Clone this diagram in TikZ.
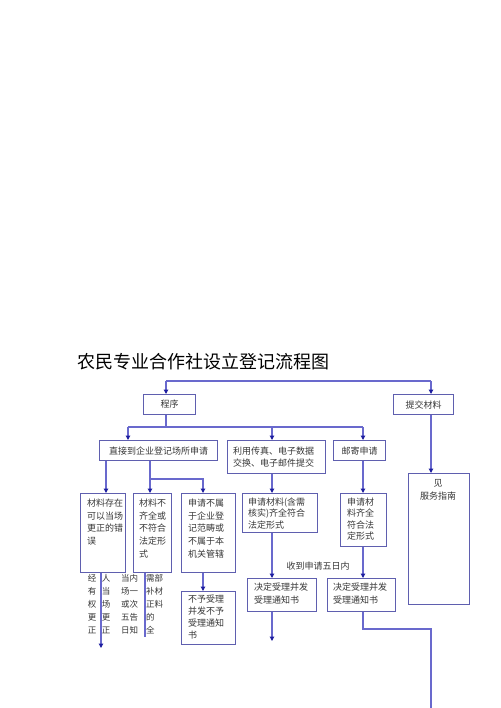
\documentclass[tikz,border=0pt]{standalone}
\usepackage{fontspec}
\setmainfont{Noto Sans CJK SC}
\usetikzlibrary{arrows.meta}
\definecolor{boxc}{RGB}{95,95,175}
\definecolor{linec}{RGB}{105,105,205}
\definecolor{tipc}{RGB}{30,30,160}
\definecolor{txtc}{RGB}{55,55,55}
\begin{document}
\begin{tikzpicture}[x=1pt,y=-1pt,
  box/.style={draw=boxc, line width=1.1pt, inner sep=0pt, anchor=north west},
  conn/.style={draw=linec, line width=1.1pt},
  arr/.style={conn, -{Triangle[width=4.5pt,length=4.5pt,color=tipc,fill=tipc]}},
  txt/.style={font=\fontsize{9}{12.5}\selectfont, text=txtc, inner sep=0pt},
  ltxt/.style={txt, align=left, anchor=base west},
  ctxt/.style={font=\fontsize{8.5}{13}\selectfont, text=txtc, inner sep=0pt, align=center, anchor=base, text width=9pt},
  pair/.style={font=\fontsize{8.5}{13}\selectfont, text=txtc, inner sep=0pt, align=left, anchor=base west, text width=20pt}
]
\fill[white] (0,0) rectangle (500,708);
\useasboundingbox (0,0) rectangle (500,708);

% title
\node[font=\fontsize{18}{18}\selectfont, anchor=west, inner sep=0pt, text=black] (title) at (77,362) {农民专业合作社设立登记流程图};

% boxes
\node[box, minimum width=52pt, minimum height=20pt] (P) at (143,394) {};
\node[box, minimum width=60pt, minimum height=20pt] (S) at (393,394) {};
\node[box, minimum width=118pt, minimum height=20pt] (D) at (99,440) {};
\node[box, minimum width=98pt, minimum height=33pt] (F) at (227,440) {};
\node[box, minimum width=52pt, minimum height=20pt] (M) at (333,440) {};
\node[box, minimum width=45pt, minimum height=79pt] (B1) at (80,493) {};
\node[box, minimum width=38pt, minimum height=79pt] (B2) at (133,493) {};
\node[box, minimum width=54pt, minimum height=79pt] (B3) at (181,493) {};
\node[box, minimum width=75pt, minimum height=39pt] (B4) at (242,493) {};
\node[box, minimum width=46pt, minimum height=53pt] (B5) at (340,493) {};
\node[box, minimum width=61pt, minimum height=131pt] (G) at (408,473) {};
\node[box, minimum width=69pt, minimum height=33pt] (R1) at (247,578) {};
\node[box, minimum width=68pt, minimum height=33pt] (R2) at (327,578) {};
\node[box, minimum width=54pt, minimum height=53pt] (N) at (181,591) {};

% box texts
\node[txt] (tP) at (P.center) {程序};
\node[txt] (tS) at (S.center) {提交材料};
\node[txt] (tD) at (D.center) {直接到企业登记场所申请};
\node[txt] (tM) at (M.center) {邮寄申请};
\node[ltxt, text width=90pt, font=\fontsize{9}{12}\selectfont] (tF) at (233,454.3) {利用传真、电子数据\\交换、电子邮件提交};
\node[ltxt, text width=40pt, font=\fontsize{9}{12.8}\selectfont] (tB1) at (87,506.3) {材料存在\\可以当场\\更正的错\\误};
\node[ltxt, text width=32pt, font=\fontsize{9}{12.8}\selectfont] (tB2) at (139,506.3) {材料不\\齐全或\\不符合\\法定形\\式};
\node[ltxt, text width=45pt, font=\fontsize{9}{12.8}\selectfont] (tB3) at (188,506.3) {申请不属\\于企业登\\记范畴或\\不属于本\\机关管辖};
\node[ltxt, text width=68pt, font=\fontsize{9}{11.5}\selectfont] (tB4) at (248,505.3) {申请材料(含需\\核实)齐全符合\\法定形式};
\node[ltxt, text width=38pt, font=\fontsize{9}{11.5}\selectfont] (tB5) at (347,505.3) {申请材\\料齐全\\符合法\\定形式};
\node[txt, align=center, text width=60pt, anchor=base, font=\fontsize{9}{13}\selectfont] (tG) at (438,486.3) {见\\服务指南};
\node[ltxt, text width=62pt, font=\fontsize{9}{13}\selectfont] (tR1) at (254,590.3) {决定受理并发\\受理通知书};
\node[ltxt, text width=62pt, font=\fontsize{9}{13}\selectfont] (tR2) at (333,590.3) {决定受理并发\\受理通知书};
\node[ltxt, text width=45pt, font=\fontsize{9}{12}\selectfont] (tN) at (188,602.3) {不予受理\\并发不予\\受理通知\\书};
\node[txt] (t5) at (318,566) {收到申请五日内};

% hanging texts
\node[ctxt] (c1) at (92,581) {经\\有\\权\\更\\正};
\node[ctxt] (c2) at (106,581) {人\\当\\场\\更\\正};
\node[pair] (c3) at (121,581) {当内\\场一\\或次\\五告\\日知};
\node[pair] (c4) at (146,581) {需部\\补材\\正料\\的\\全};

% connectors
\coordinate (t0) at (166,381);
\coordinate (t1) at (431,381);
\draw[conn] (t0) -- (t1);
\draw[arr] (t0) -- (t0 |- P.north);
\draw[arr] (t1) -- (t1 |- S.north);

\coordinate (h0) at (128,427);
\coordinate (h1) at (363,427);
\coordinate (h2) at (272,427);
\draw[conn] (t0 |- P.south) -- (t0 |- h0);
\draw[conn] (h0) -- (h1);
\draw[arr] (h0) -- (h0 |- D.north);
\draw[arr] (h2) -- (h2 |- F.north);
\draw[arr] (h1) -- (h1 |- M.north);
\draw[arr] (t1 |- S.south) -- (t1 |- G.north);

\coordinate (xa) at (106,479);
\coordinate (xb) at (150,479);
\coordinate (xc) at (203,479);
\draw[arr] (xa |- D.south) -- (xa |- B1.north);
\draw[arr] (xb |- D.south) -- (xb |- B2.north);
\draw[arr] (xb) -- (xc) -- (xc |- B3.north);
\draw[arr] (h2 |- F.south) -- (h2 |- B4.north);
\draw[arr] (h1 |- M.south) -- (h1 |- B5.north);

\coordinate (e1) at (101,648);
\coordinate (e2) at (145,637);
\coordinate (e3) at (272,641);
\coordinate (e5) at (431,629);
\coordinate (e4) at (431,708);
\draw[arr] (e1 |- B1.south) -- (e1);
\draw[conn] (e2 |- B2.south) -- (e2);
\draw[arr] (xc |- B3.south) -- (xc |- N.north);
\draw[arr] (h2 |- B4.south) -- (h2 |- R1.north);
\draw[arr] (h1 |- B5.south) -- (h1 |- R2.north);
\draw[arr] (e3 |- R1.south) -- (e3);
\draw[conn] (h1 |- R2.south) -- (h1 |- e5) -- (e5) -- (e4);
\end{tikzpicture}
\end{document}
